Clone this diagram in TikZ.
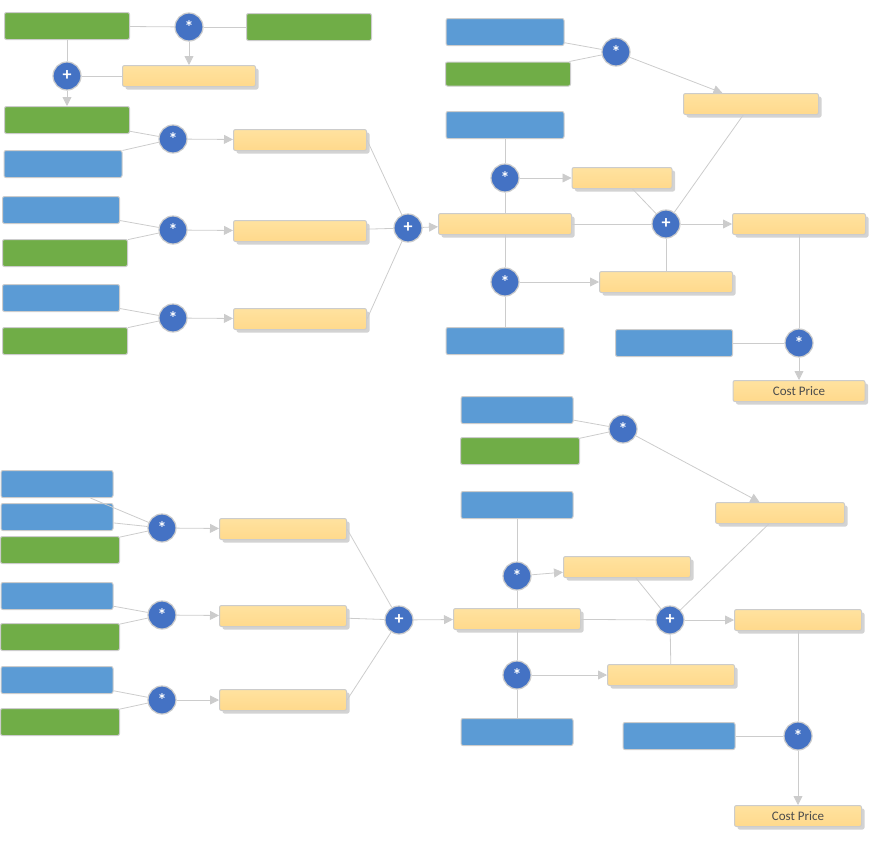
\documentclass[tikz,border=0pt]{standalone}
\usepackage{fontspec}
\setmainfont{Carlito}
\usetikzlibrary{shadows,arrows.meta}
\definecolor{gr}{HTML}{70AD47}
\definecolor{bl}{HTML}{5B9BD5}
\definecolor{yl}{HTML}{FFD98C}
\definecolor{yl2}{HTML}{FFE29F}
\definecolor{op}{HTML}{4472C4}
\definecolor{ln}{HTML}{CCCCCC}
\begin{document}
\begin{tikzpicture}[x=1pt,y=-1pt,
 box/.style={draw=ln,line width=1pt,rounded corners=2pt,inner sep=0pt,minimum height=27pt},
 G/.style={box,fill=gr,minimum width=#1},
 B/.style={box,fill=bl,minimum width=#1},
 Y/.style={box,top color=yl2,bottom color=yl,minimum height=21pt,minimum width=#1,drop shadow={shadow xshift=3pt,shadow yshift=-3pt,opacity=0.35},font=\fontsize{13}{13}\selectfont,text=black!70},
 O/.style={circle,draw=ln,line width=1.2pt,fill=op,minimum size=28pt,inner sep=0pt,text=white,font=\fontsize{18}{18}\selectfont\bfseries},
 l/.style={draw=ln,line width=0.8pt},
 a/.style={l,-{Triangle[length=9pt,width=9pt]}}]
\useasboundingbox (0,0) rectangle (879,854);
% top-left
\node[G=125pt] (g1) at (67,26) {};
\node[O] (o1) at (189,27) {*};
\node[G=125pt] (g2) at (309,27) {};
\node[O] (p1) at (67,76) {+};
\node[Y=133pt] (y1) at (189,76) {};
\node[G=125pt] (g3) at (67,120) {};
\node[B=118pt] (b1) at (63,164) {};
\node[O] (o2) at (173,139) {*};
\node[Y=133pt] (y2) at (300,140) {};
\node[B=117pt] (b2) at (61,210) {};
\node[G=125pt] (g4) at (65,253) {};
\node[O] (o3) at (173,230) {*};
\node[Y=133pt] (y3) at (300,231) {};
\node[B=117pt] (b3) at (61,298) {};
\node[G=125pt] (g5) at (65,341) {};
\node[O] (o4) at (173,318) {*};
\node[Y=133pt] (y4) at (300,319) {};
\node[O] (p2) at (408,228) {+};
\node[Y=133pt] (y5) at (505,224) {};
% top-right
\node[B=118pt] (b4) at (505,32) {};
\node[G=125pt,minimum height=24pt] (g6) at (508,74) {};
\node[O] (o5) at (616,52) {*};
\node[Y=135pt] (y6) at (751,104) {};
\node[B=118pt] (b5) at (505,125) {};
\node[O] (o6) at (505,178) {*};
\node[Y=100pt] (y7) at (622,178) {};
\node[O] (o7) at (505,282) {*};
\node[B=118pt] (b6) at (505,341) {};
\node[Y=133pt] (y8) at (666,282) {};
\node[O] (p3) at (666,224) {+};
\node[Y=133pt] (y9) at (799,224) {};
\node[O] (o8) at (799,343) {*};
\node[B=117pt] (b7) at (674,343) {};
\node[Y=132pt] (c1) at (799,391) {Cost Price};
\draw[l] (g1)--(o1); \draw[l] (g2)--(o1); \draw[a] (o1)--(y1);
\draw[l] (g1)--(p1); \draw[l] (y1)--(p1); \draw[a] (p1)--(g3);
\draw[l] (g3)--(o2); \draw[l] (b1)--(o2); \draw[a] (o2)--(y2);
\draw[l] (b2)--(o3); \draw[l] (g4)--(o3); \draw[a] (o3)--(y3);
\draw[l] (b3)--(o4); \draw[l] (g5)--(o4); \draw[a] (o4)--(y4);
\draw[l] (y2.east)--(p2); \draw[l] (y3)--(p2); \draw[l] (y4.east)--(p2); \draw[a] (p2)--(y5);
\draw[l] (b4)--(o5); \draw[l] (g6)--(o5); \draw[a] (o5)--(y6);
\draw[l] (b5)--(o6); \draw[l] (o6)--(y5); \draw[a] (o6)--(y7);
\draw[l] (y5)--(o7); \draw[l] (o7)--(b6); \draw[a] (o7)--(y8);
\draw[l] (y5)--(p3); \draw[l] (y7)--(p3); \draw[l] (y8)--(p3); \draw[l] (y6)--(p3);
\draw[a] (p3)--(y9);
\draw[l] (y9)--(o8); \draw[l] (b7)--(o8); \draw[a] (o8)--(c1);
% bottom-left
\node[B=112pt] (b8) at (57,484) {};
\node[B=112pt] (b9) at (57,517) {};
\node[G=119pt] (g7) at (60,550) {};
\node[O] (o9) at (162,528) {*};
\node[Y=127pt] (y10) at (283,529) {};
\node[B=112pt] (b10) at (57,596) {};
\node[G=119pt] (g8) at (60,637) {};
\node[O] (o10) at (162,615) {*};
\node[Y=127pt] (y11) at (283,616) {};
\node[B=112pt] (b11) at (57,680) {};
\node[G=119pt] (g9) at (60,722) {};
\node[O] (o11) at (162,700) {*};
\node[Y=127pt] (y12) at (283,700) {};
\node[O] (p4) at (399,620) {+};
\node[Y=127pt] (y13) at (517,619) {};
% bottom-right
\node[B=112pt] (b12) at (517,410) {};
\node[G=119pt] (g10) at (520,451) {};
\node[O] (o12) at (623,429) {*};
\node[Y=129pt] (y14) at (780,513) {};
\node[B=112pt] (b13) at (517,505) {};
\node[O] (o13) at (517,576) {*};
\node[Y=127pt] (y15) at (627,567) {};
\node[O] (o14) at (517,675) {*};
\node[B=112pt] (b14) at (517,732) {};
\node[Y=127pt] (y16) at (671,675) {};
\node[O] (p5) at (670,620) {+};
\node[Y=127pt] (y17) at (798,620) {};
\node[O] (o15) at (798,736) {*};
\node[B=112pt] (b15) at (679,736) {};
\node[Y=127pt] (c2) at (798,816) {Cost Price};
\draw[l] (b8)--(o9); \draw[l] (b9)--(o9); \draw[l] (g7)--(o9); \draw[a] (o9)--(y10);
\draw[l] (b10)--(o10); \draw[l] (g8)--(o10); \draw[a] (o10)--(y11);
\draw[l] (b11)--(o11); \draw[l] (g9)--(o11); \draw[a] (o11)--(y12);
\draw[l] (y10.east)--(p4); \draw[l] (y11)--(p4); \draw[l] (y12.east)--(p4); \draw[a] (p4)--(y13);
\draw[l] (b12)--(o12); \draw[l] (g10)--(o12); \draw[a] (o12)--(y14);
\draw[l] (b13)--(o13); \draw[l] (o13)--(y13); \draw[a] (o13)--(y15);
\draw[l] (y13)--(o14); \draw[l] (o14)--(b14); \draw[a] (o14)--(y16);
\draw[l] (y13)--(p5); \draw[l] (y15)--(p5); \draw[l] (y16)--(p5); \draw[l] (y14)--(p5);
\draw[a] (p5)--(y17);
\draw[l] (y17)--(o15); \draw[l] (b15)--(o15); \draw[a] (o15)--(c2);
\end{tikzpicture}
\end{document}
